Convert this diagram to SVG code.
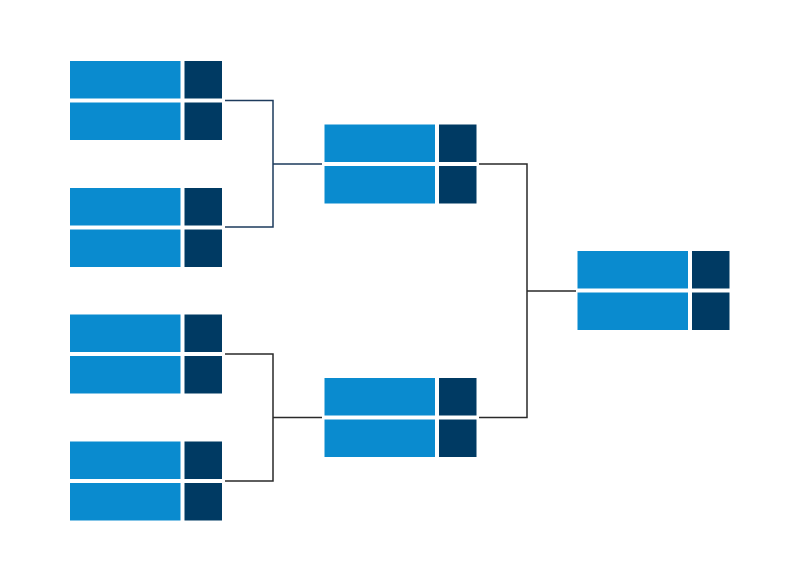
<svg xmlns="http://www.w3.org/2000/svg" width="800" height="582" viewBox="0 0 800 582">
<defs>
<style>
.l{fill:#0a8bcf}
.d{fill:#003a63}
.c{fill:none;stroke:#2a2a2a;stroke-width:1.5}
.c1{stroke:#1d3b5c}
</style>
<g id="cell">
<rect class="l" x="0" y="0" width="110.5" height="37.5"/>
<rect class="l" x="0" y="41.5" width="110.5" height="37.5"/>
<rect class="d" x="114.5" y="0" width="37.5" height="37.5"/>
<rect class="d" x="114.5" y="41.5" width="37.5" height="37.5"/>
</g>
</defs>
<rect width="800" height="582" fill="#ffffff"/>
<g id="connectors">
<path class="c c1" d="M225 100.5H273V227H225M273 164H322"/>
<path class="c" d="M225 354H273V481H225M273 417.5H322"/>
<path class="c" d="M479 164H527V417.5H479M527 291H576"/>
</g>
<g id="r1a"><use href="#cell" x="70" y="61"/></g>
<g id="r1b"><use href="#cell" x="70" y="188"/></g>
<g id="r1c"><use href="#cell" x="70" y="314.5"/></g>
<g id="r1d"><use href="#cell" x="70" y="441.5"/></g>
<g id="r2a"><use href="#cell" x="324.5" y="124.5"/></g>
<g id="r2b"><use href="#cell" x="324.5" y="378"/></g>
<g id="final"><use href="#cell" x="577.5" y="251"/></g>
</svg>
